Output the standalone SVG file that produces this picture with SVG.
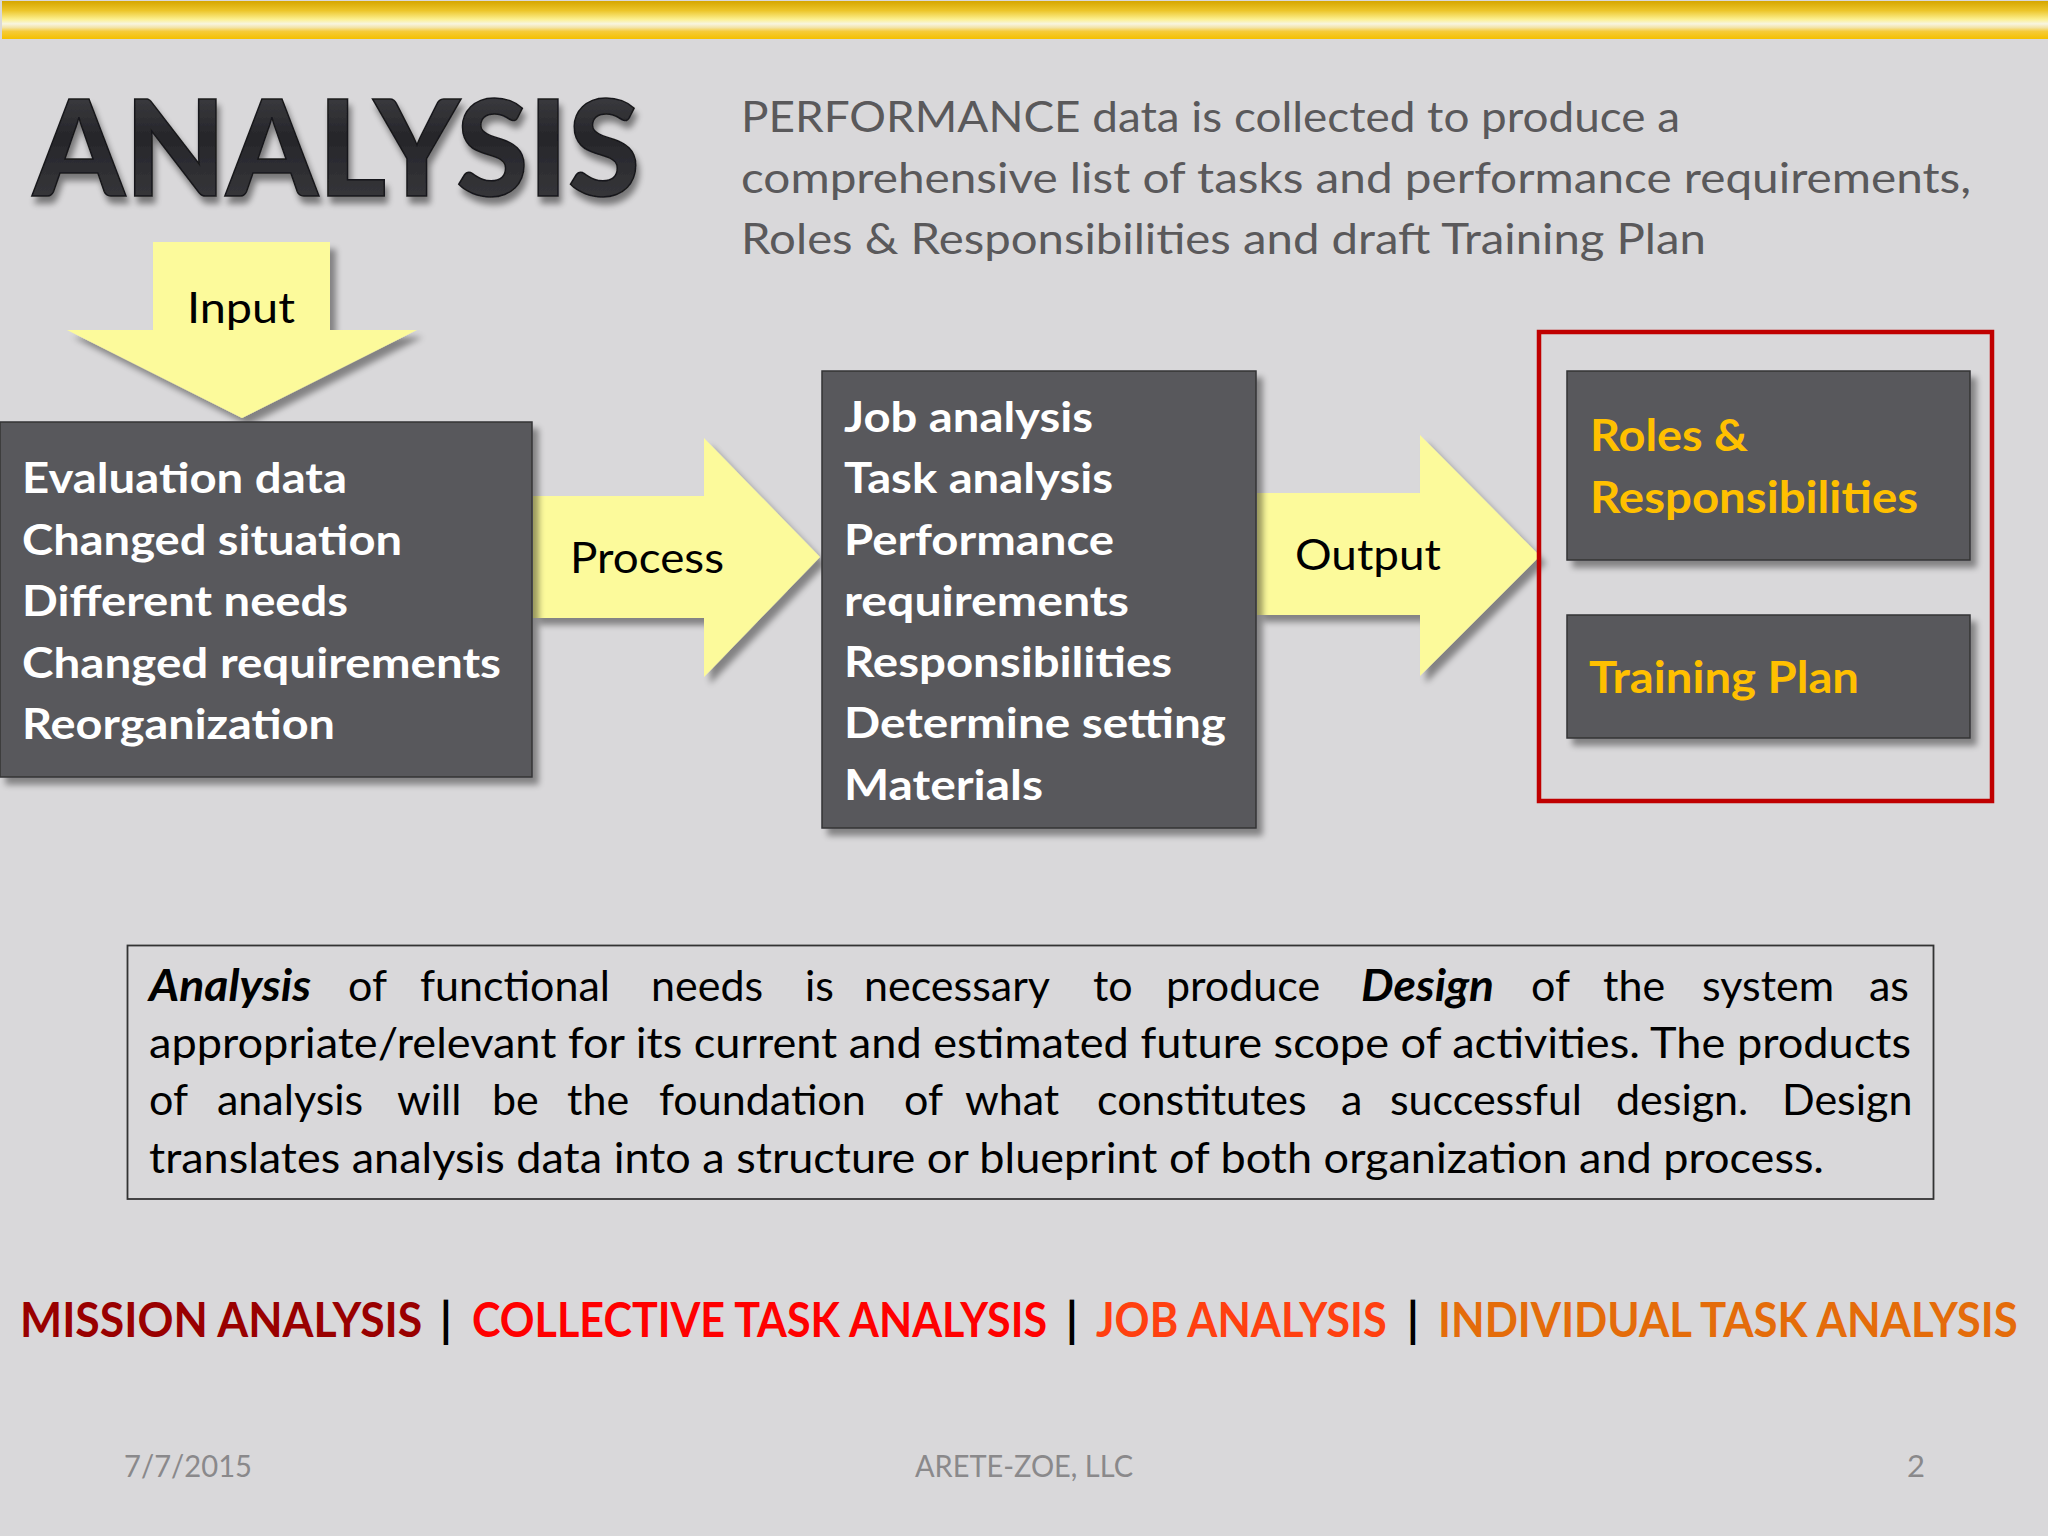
<svg xmlns="http://www.w3.org/2000/svg" width="2048" height="1536" viewBox="0 0 2048 1536">
<defs>
<linearGradient id="bar" x1="0" y1="0" x2="0" y2="1">
<stop offset="0" stop-color="#d6a600"/>
<stop offset="0.25" stop-color="#ecc52a"/>
<stop offset="0.48" stop-color="#fcf090"/>
<stop offset="0.6" stop-color="#f8f5e0"/>
<stop offset="0.7" stop-color="#f3e3a6"/>
<stop offset="0.8" stop-color="#f6cb38"/>
<stop offset="1" stop-color="#f4c000"/>
</linearGradient>
<linearGradient id="titleFill" x1="0" y1="0" x2="0" y2="1">
<stop offset="0" stop-color="#4a4a4e"/>
<stop offset="0.45" stop-color="#26262a"/>
<stop offset="1" stop-color="#3c3c40"/>
</linearGradient>
<filter id="shadow" x="-10%" y="-10%" width="130%" height="130%">
<feGaussianBlur in="SourceAlpha" stdDeviation="3"/>
<feOffset dx="6" dy="7" result="o"/>
<feComponentTransfer><feFuncA type="linear" slope="0.4"/></feComponentTransfer>
<feMerge><feMergeNode/><feMergeNode in="SourceGraphic"/></feMerge>
</filter>
<filter id="tshadow" x="-5%" y="-10%" width="115%" height="140%">
<feGaussianBlur in="SourceAlpha" stdDeviation="3"/>
<feOffset dx="3" dy="7"/>
<feComponentTransfer><feFuncA type="linear" slope="0.45"/></feComponentTransfer>
<feMerge><feMergeNode/><feMergeNode in="SourceGraphic"/></feMerge>
</filter>
<style>
.box{fill:#59585b;stroke:#333335;stroke-width:1.5}
.arrow{fill:#fcfa9b}
.wb{font-family:Lato,"Liberation Sans",sans-serif;font-weight:700;font-size:42px;fill:#ffffff}
.yb{font-family:Lato,"Liberation Sans",sans-serif;font-weight:700;font-size:43px;fill:#ffc000}
.lbl{font-family:Lato,"Liberation Sans",sans-serif;font-size:42px;fill:#000000}
.desc{font-family:Lato,"Liberation Sans",sans-serif;font-size:43px;fill:#5a595b}
.para{font-family:Lato,"Liberation Sans",sans-serif;font-size:43px;fill:#000000}
.bi{font-weight:700;font-style:italic}
.tag{font-family:Lato,"Liberation Sans",sans-serif;font-weight:700;font-size:47px}
.foot{font-family:Lato,"Liberation Sans",sans-serif;font-size:31px;fill:#8a898b}
</style>
</defs>
<rect x="0" y="0" width="2048" height="1536" fill="#d9d8da"/>
<rect x="2" y="1" width="2046" height="38" fill="url(#bar)"/>

<g id="title" filter="url(#tshadow)">
<text x="33" y="196" textLength="607" lengthAdjust="spacingAndGlyphs" font-family="Lato,'Liberation Sans',sans-serif" font-weight="900" font-size="133" fill="url(#titleFill)" stroke="#18181a" stroke-width="1.5">ANALYSIS</text>
</g>

<g id="description" class="desc">
<text x="741" y="132" textLength="939" lengthAdjust="spacingAndGlyphs">PERFORMANCE data is collected to produce a</text>
<text x="741" y="193" textLength="1230" lengthAdjust="spacingAndGlyphs">comprehensive list of tasks and performance requirements,</text>
<text x="741" y="254" textLength="965" lengthAdjust="spacingAndGlyphs">Roles &amp; Responsibilities and draft Training Plan</text>
</g>

<g id="connectors">
<g id="input-arrow" filter="url(#shadow)">
<polygon class="arrow" points="153,242 330,242 330,330 417,330 242,418 67,330 153,330"/>
</g>
<text class="lbl" x="187" y="323" textLength="108" lengthAdjust="spacingAndGlyphs">Input</text>
<g id="process-arrow" filter="url(#shadow)">
<polygon class="arrow" points="533,496 704,496 704,438 820,557 704,677 704,618 533,618"/>
</g>
<text class="lbl" x="570" y="573" textLength="154" lengthAdjust="spacingAndGlyphs">Process</text>
<g id="output-arrow" filter="url(#shadow)">
<polygon class="arrow" points="1257,493 1420,493 1420,435 1540,556 1420,676 1420,615 1257,615"/>
</g>
<text class="lbl" x="1295" y="570" textLength="146" lengthAdjust="spacingAndGlyphs">Output</text>
</g>

<g id="input-node">
<rect class="box" x="0" y="422" width="532" height="355" filter="url(#shadow)"/>
<text class="wb" x="22" y="493" textLength="325" lengthAdjust="spacingAndGlyphs">Evaluation data</text>
<text class="wb" x="22" y="555" textLength="380" lengthAdjust="spacingAndGlyphs">Changed situation</text>
<text class="wb" x="22" y="616" textLength="326" lengthAdjust="spacingAndGlyphs">Different needs</text>
<text class="wb" x="22" y="678" textLength="479" lengthAdjust="spacingAndGlyphs">Changed requirements</text>
<text class="wb" x="22" y="739" textLength="313" lengthAdjust="spacingAndGlyphs">Reorganization</text>
</g>

<g id="process-node">
<rect class="box" x="822" y="371" width="434" height="457" filter="url(#shadow)"/>
<text class="wb" x="844" y="432" textLength="249" lengthAdjust="spacingAndGlyphs">Job analysis</text>
<text class="wb" x="844" y="493" textLength="269" lengthAdjust="spacingAndGlyphs">Task analysis</text>
<text class="wb" x="844" y="555" textLength="270" lengthAdjust="spacingAndGlyphs">Performance</text>
<text class="wb" x="844" y="616" textLength="285" lengthAdjust="spacingAndGlyphs">requirements</text>
<text class="wb" x="844" y="677" textLength="328" lengthAdjust="spacingAndGlyphs">Responsibilities</text>
<text class="wb" x="844" y="738" textLength="382" lengthAdjust="spacingAndGlyphs">Determine setting</text>
<text class="wb" x="844" y="800" textLength="199" lengthAdjust="spacingAndGlyphs">Materials</text>
</g>

<g id="output-node">
<rect x="1539" y="332" width="453" height="469" fill="none" stroke="#c00000" stroke-width="4.5"/>
</g>

<g id="roles-node">
<rect class="box" x="1567" y="371" width="403" height="189" filter="url(#shadow)"/>
<text class="yb" x="1590" y="451" textLength="158" lengthAdjust="spacingAndGlyphs">Roles &amp;</text>
<text class="yb" x="1590" y="513" textLength="328" lengthAdjust="spacingAndGlyphs">Responsibilities</text>
</g>

<g id="training-node">
<rect class="box" x="1567" y="615" width="403" height="123" filter="url(#shadow)"/>
<text class="yb" x="1589" y="693" textLength="270" lengthAdjust="spacingAndGlyphs">Training Plan</text>
</g>

<g id="paragraph" class="para">
<rect x="127.5" y="945.5" width="1806" height="253.5" fill="none" stroke="#333333" stroke-width="1.8"/>
<text class="bi" x="149" y="1001" textLength="162" lengthAdjust="spacingAndGlyphs">Analysis</text>
<text x="348" y="1001">of</text>
<text x="420" y="1001">functional</text>
<text x="651" y="1001">needs</text>
<text x="805" y="1001">is</text>
<text x="864" y="1001">necessary</text>
<text x="1093" y="1001">to</text>
<text x="1166" y="1001">produce</text>
<text class="bi" x="1361" y="1001" textLength="133" lengthAdjust="spacingAndGlyphs">Design</text>
<text x="1531" y="1001">of</text>
<text x="1603" y="1001">the</text>
<text x="1702" y="1001">system</text>
<text x="1869" y="1001">as</text>
<text x="149" y="1058" textLength="1762" lengthAdjust="spacingAndGlyphs">appropriate/relevant for its current and estimated future scope of activities. The products</text>
<text x="149" y="1115">of</text>
<text x="217" y="1115">analysis</text>
<text x="397" y="1115">will</text>
<text x="492" y="1115">be</text>
<text x="567" y="1115">the</text>
<text x="659" y="1115">foundation</text>
<text x="904" y="1115">of</text>
<text x="965" y="1115">what</text>
<text x="1097" y="1115">constitutes</text>
<text x="1341" y="1115">a</text>
<text x="1390" y="1115">successful</text>
<text x="1616" y="1115">design.</text>
<text x="1782" y="1115">Design</text>
<text x="149" y="1173" textLength="1675" lengthAdjust="spacingAndGlyphs">translates analysis data into a structure or blueprint of both organization and process.</text>
</g>

<g id="tagline" class="tag">
<g transform="translate(20,1337) scale(0.9,1)"><text x="0" y="0" textLength="447" lengthAdjust="spacingAndGlyphs" fill="#990000">MISSION ANALYSIS</text></g>
<text x="446" y="1337" text-anchor="middle" fill="#000000">|</text>
<g transform="translate(472,1337) scale(0.9,1)"><text x="0" y="0" textLength="639" lengthAdjust="spacingAndGlyphs" fill="#ff0000">COLLECTIVE TASK ANALYSIS</text></g>
<text x="1072" y="1337" text-anchor="middle" fill="#000000">|</text>
<g transform="translate(1096,1337) scale(0.9,1)"><text x="0" y="0" textLength="323" lengthAdjust="spacingAndGlyphs" fill="#ff4010">JOB ANALYSIS</text></g>
<text x="1413" y="1337" text-anchor="middle" fill="#000000">|</text>
<g transform="translate(1438,1337) scale(0.9,1)"><text x="0" y="0" textLength="644" lengthAdjust="spacingAndGlyphs" fill="#e46c0a">INDIVIDUAL TASK ANALYSIS</text></g>
</g>

<g id="footer" class="foot">
<text x="124" y="1477" textLength="128" lengthAdjust="spacingAndGlyphs">7/7/2015</text>
<text x="1024" y="1477" text-anchor="middle" textLength="218" lengthAdjust="spacingAndGlyphs">ARETE-ZOE, LLC</text>
<text x="1907" y="1477">2</text>
</g>
</svg>
